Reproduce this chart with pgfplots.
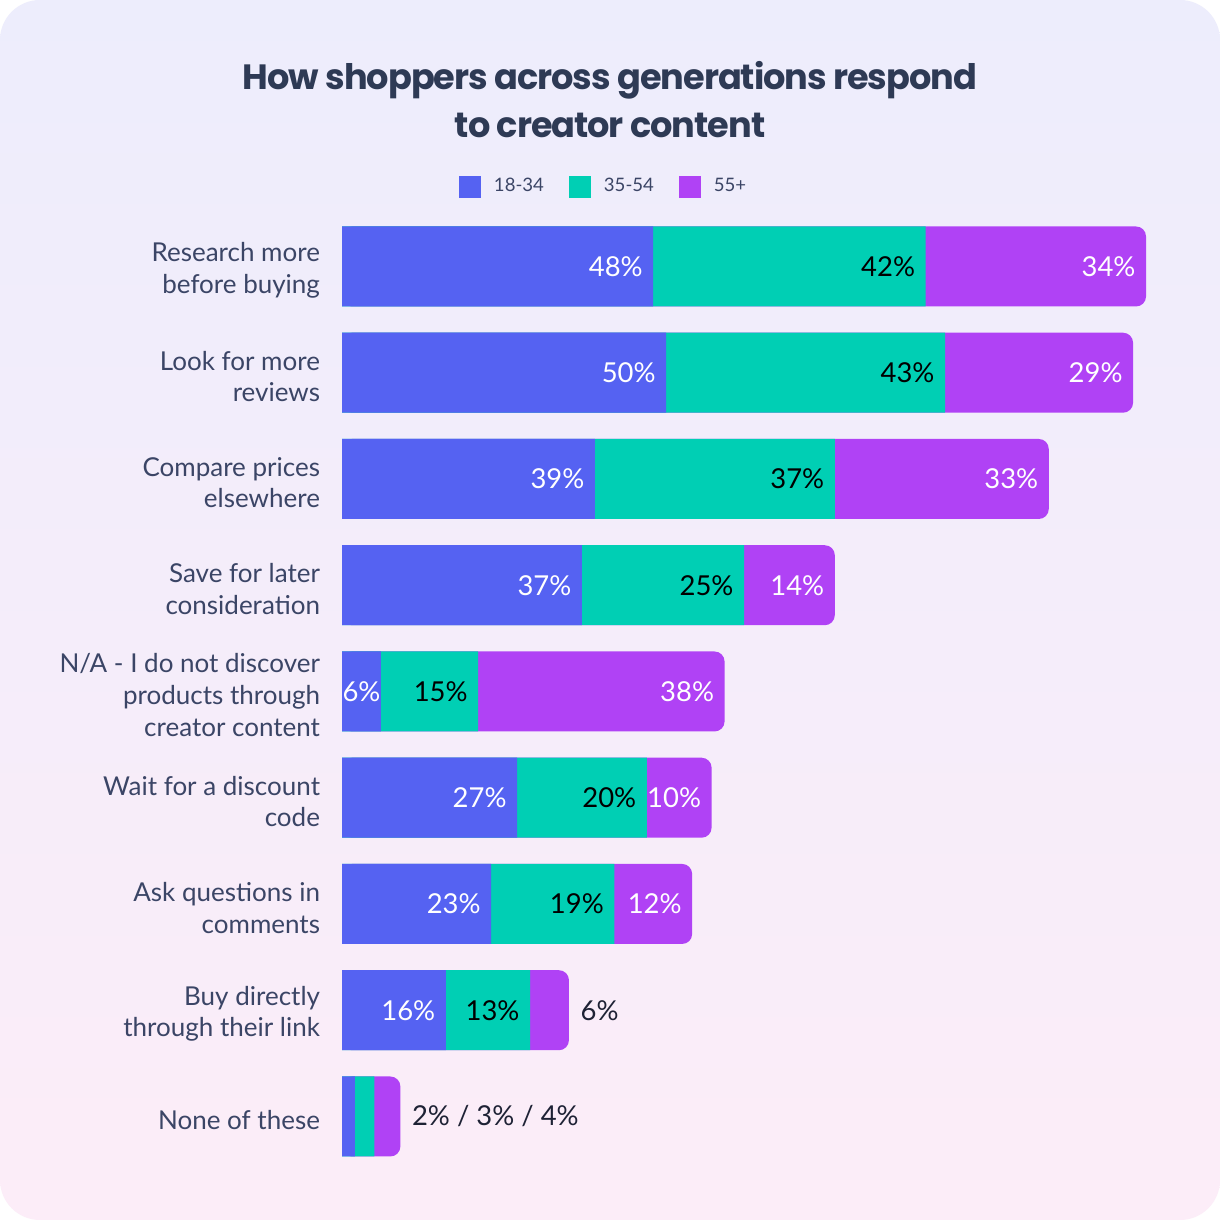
\documentclass[border=0pt]{standalone}
\usepackage{pgfplots}
\pgfplotsset{compat=1.18}
\usepackage{pgfplotstable}
\usepackage{fontspec}
\setmainfont{Lato}
\newfontfamily\titlefont{Poppins}[LetterSpace=-3]
\definecolor{cblue}{RGB}{85,98,242}
\definecolor{cteal}{RGB}{0,207,180}
\definecolor{cpurple}{RGB}{176,66,245}
\definecolor{ctitle}{RGB}{46,58,85}
\definecolor{clabel}{RGB}{59,69,102}
\definecolor{cdark}{RGB}{30,34,53}
\definecolor{bgtop}{RGB}{237,237,252}
\definecolor{bgbot}{RGB}{252,237,248}

\pgfplotstableread{
y a b c
8 48 42 34
7 50 43 29
6 39 37 33
5 37 25 14
4 6 15 38
3 27 20 10
2 23 19 12
1 16 13 6
0 2 3 4
}\data
\pgfplotstablecreatecol[expr={\thisrow{a}+\thisrow{b}}]{ab}\data
\pgfplotstablecreatecol[expr={\thisrow{a}+\thisrow{b}+\thisrow{c}}]{abc}\data

\newcommand\pctfont{\fontsize{9.6}{11}\selectfont}

\begin{document}
\begin{tikzpicture}
\fill[white] (0,0) rectangle (427pt,427pt);
\shade[top color=bgtop, bottom color=bgbot, rounded corners=14pt] (0,0) rectangle (427pt,427pt);
\node[anchor=base, text=ctitle, font=\titlefont\bfseries\fontsize{12.3}{14}\selectfont, inner sep=0pt] at (213.5pt,395.6pt) {How shoppers across generations respond};
\node[anchor=base, text=ctitle, font=\titlefont\bfseries\fontsize{12.3}{14}\selectfont, inner sep=0pt] at (213.5pt,378.8pt) {to creator content};
\begin{axis}[
  at={(119.7pt,17.64pt)}, anchor=south west,
  x=2.2694pt, y=37.1875pt,
  xmin=0, xmax=126, ymin=-0.5, ymax=8.5,
  axis line style={draw=none},
  xtick=\empty,
  ytick={0,...,8},
  yticklabels={None of these,{Buy directly\\through their link},{Ask questions in\\comments},{Wait for a discount\\code},{N/A - I do not discover\\products through\\creator content},{Save for later\\consideration},{Compare prices\\elsewhere},{Look for more\\reviews},{Research more\\before buying}},
  major tick length=0pt,
  yticklabel style={align=right, anchor=east, inner sep=0pt, xshift=-7.5pt, yshift=-1.3pt, text=clabel, font=\fontsize{9.1}{11.1}\selectfont},
  bar width=28pt, bar shift=0pt,
  clip=false,
  legend columns=3,
  legend style={draw=none, fill=none, inner sep=0pt, at={(0.319,1)}, anchor=center, yshift=9.3pt,
    column sep=4.5pt, /tikz/every even column/.append style={column sep=8.75pt},
    nodes={inner sep=0pt, text=clabel, font=\fontsize{6.5}{8}\selectfont}},
  legend image code/.code={\fill[#1] (0pt,-3.7pt) rectangle (7.35pt,3.7pt);},
]
\addlegendimage{cblue}\addlegendentry{18-34}
\addlegendimage{cteal}\addlegendentry{35-54}
\addlegendimage{cpurple}\addlegendentry{55+}
\addplot[xbar, forget plot, fill=cpurple, draw=none, rounded corners=3.5pt] table[x=abc, y=y] {\data};
\addplot[xbar, forget plot, fill=cteal, draw=none] table[x=ab, y=y] {\data};
\addplot[xbar, forget plot, fill=cblue, draw=none] table[x=a, y=y] {\data};
% segment labels
\addplot[draw=none, mark=none, forget plot, restrict y to domain=0.5:8.5,
  x filter/.expression={y==4 ? nan : x},
  point meta=explicit symbolic, nodes near coords={\pgfplotspointmeta\%},
  every node near coord/.append style={anchor=east, xshift=-3.5pt, inner sep=0pt, text=white, font=\pctfont}]
  table[x=a, y=y, meta=a] {\data};
\addplot[draw=none, mark=none, forget plot, restrict y to domain=0.5:8.5,
  point meta=explicit symbolic, nodes near coords={\pgfplotspointmeta\%},
  every node near coord/.append style={anchor=east, xshift=-3.5pt, inner sep=0pt, text=black, font=\pctfont}]
  table[x=ab, y=y, meta=b] {\data};
\addplot[draw=none, mark=none, forget plot, restrict y to domain=1.5:8.5,
  point meta=explicit symbolic, nodes near coords={\pgfplotspointmeta\%},
  every node near coord/.append style={anchor=east, xshift=-3.5pt, inner sep=0pt, text=white, font=\pctfont}]
  table[x=abc, y=y, meta=c] {\data};
\node[anchor=west, inner sep=0pt, text=white, font=\pctfont] at (axis cs:0,4) {6\%};
\node[anchor=west, inner sep=0pt, text=cdark, font=\pctfont] at (axis cs:35,1) {\hspace{3.9pt}6\%};
\node[anchor=west, inner sep=0pt, text=cdark, font=\pctfont] at (axis cs:9,0) {\hspace{3.9pt}2\% / 3\% / 4\%};
\end{axis}
\pgfresetboundingbox
\useasboundingbox (0,0) rectangle (427pt,427pt);
\end{tikzpicture}
\end{document}
